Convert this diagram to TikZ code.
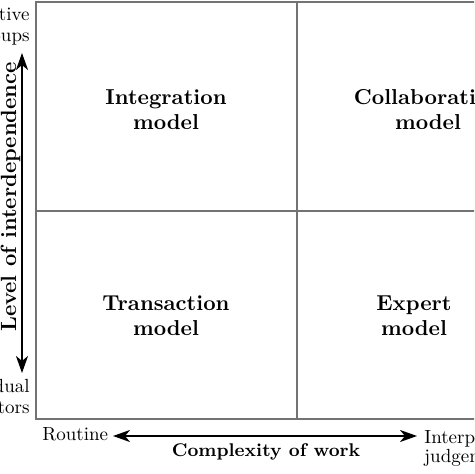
\documentclass[tikz,border=0pt]{standalone}
\usetikzlibrary{arrows.meta}
\begin{document}
\begin{tikzpicture}[x=0.5pt,y=-0.5pt,
  frame/.style={draw=black!55,line width=0.7pt},
  axis/.style={draw=black,line width=1pt,{Stealth[length=8.5pt,width=6pt,inset=2.5pt]}-{Stealth[length=8.5pt,width=6pt,inset=2.5pt]}},
  model/.style={font=\fontsize{10.8}{12.5}\selectfont\bfseries,align=center,inner sep=0pt},
  lbl/.style={font=\fontsize{9.5}{11}\selectfont,inner sep=0pt},
  ylbl/.style={font=\fontsize{11}{13}\selectfont\bfseries,inner sep=0pt},
  xlbl/.style={font=\fontsize{9.2}{11}\selectfont\bfseries,inner sep=0pt}]
\useasboundingbox (0,0) rectangle (474,474);
\clip (0,0) rectangle (474,474);
\fill[white] (0,0) rectangle (474,474);
% frame
\coordinate (tl) at (36,2);
\coordinate (br) at (558,419);
\draw[frame] (tl) rectangle (br);
\coordinate (vt) at (297,2);
\coordinate (vb) at (297,419);
\coordinate (hl) at (36,211);
\coordinate (hr) at (558,211);
\draw[frame] (vt) -- (vb);
\draw[frame] (hl) -- (hr);
% models
\node[model] (int) at (166,110) {Integration\\model};
\node[model] (col) at (428,110) {Collaboration\\model};
\node[model] (tra) at (166,316) {Transaction\\model};
\node[model] (exp) at (414,316) {Expert\\model};
% y axis
\coordinate (yt) at (22,53);
\coordinate (yb) at (22,373);
\draw[axis] (yb) -- (yt);
\node[ylbl,rotate=90,anchor=base] (ylab) at (16,197) {Level of interdependence};
\node[lbl,anchor=base east] (coll1) at (30,21) {Collective};
\node[lbl,anchor=base east] (coll2) at (30,42) {groups};
\node[lbl,anchor=base east] (ind1) at (30,392) {Individual};
\node[lbl,anchor=base east] (ind2) at (30,413) {actors};
% x axis
\coordinate (xl) at (113,436);
\coordinate (xr) at (417,436);
\draw[axis] (xl) -- (xr);
\node[xlbl,anchor=base] (xlab) at (266,456) {Complexity of work};
\node[lbl,anchor=base west] (rout) at (42,440) {Routine};
\node[lbl,anchor=base west] (ij1) at (424,443) {Interpersonal};
\node[lbl,anchor=base west] (ij2) at (424,462) {judgement};
\end{tikzpicture}
\end{document}
